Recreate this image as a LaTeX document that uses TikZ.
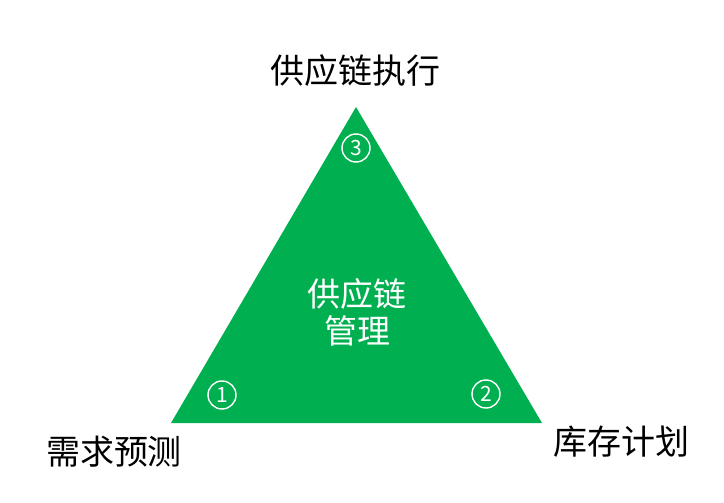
\documentclass[tikz,border=0pt]{standalone}
\usepackage{fontspec}
\newfontfamily\cjk{Noto Sans CJK SC}
\usetikzlibrary{positioning}
\definecolor{scmgreen}{RGB}{0,176,80}

\begin{document}
\begin{tikzpicture}[x=1pt,y=-1pt,
			tag/.style={font=\cjk\fontsize{34}{37}\selectfont},
			num/.style={draw=white, circle, line width=1.4pt, minimum size=28pt,
				inner sep=0pt, text=white, font=\cjk\fontsize{21}{21}\selectfont}]
			\useasboundingbox (0,0) rectangle (724,503);
			\coordinate (top) at (356,107);
			\coordinate (left) at (171,423);
			\coordinate (right) at (542,423);
			\fill [scmgreen] (top) -- (left) -- (right) -- cycle;
			\node [tag, text=white, align=center, font=\cjk\fontsize{33}{37}\selectfont] (core) at (357,312) {供应链\\管理};
			\node [num] (n3) at (356,148) {3};
			\node [num] (n1) at (222,395) {1};
			\node [num] (n2) at (486,394) {2};
			\node [tag] (exec) at (355,71) {供应链执行};
			\node [tag] (demand) at (114,452) {需求预测};
			\node [tag] (stock) at (621,442) {库存计划};
		\end{tikzpicture}
\end{document}
